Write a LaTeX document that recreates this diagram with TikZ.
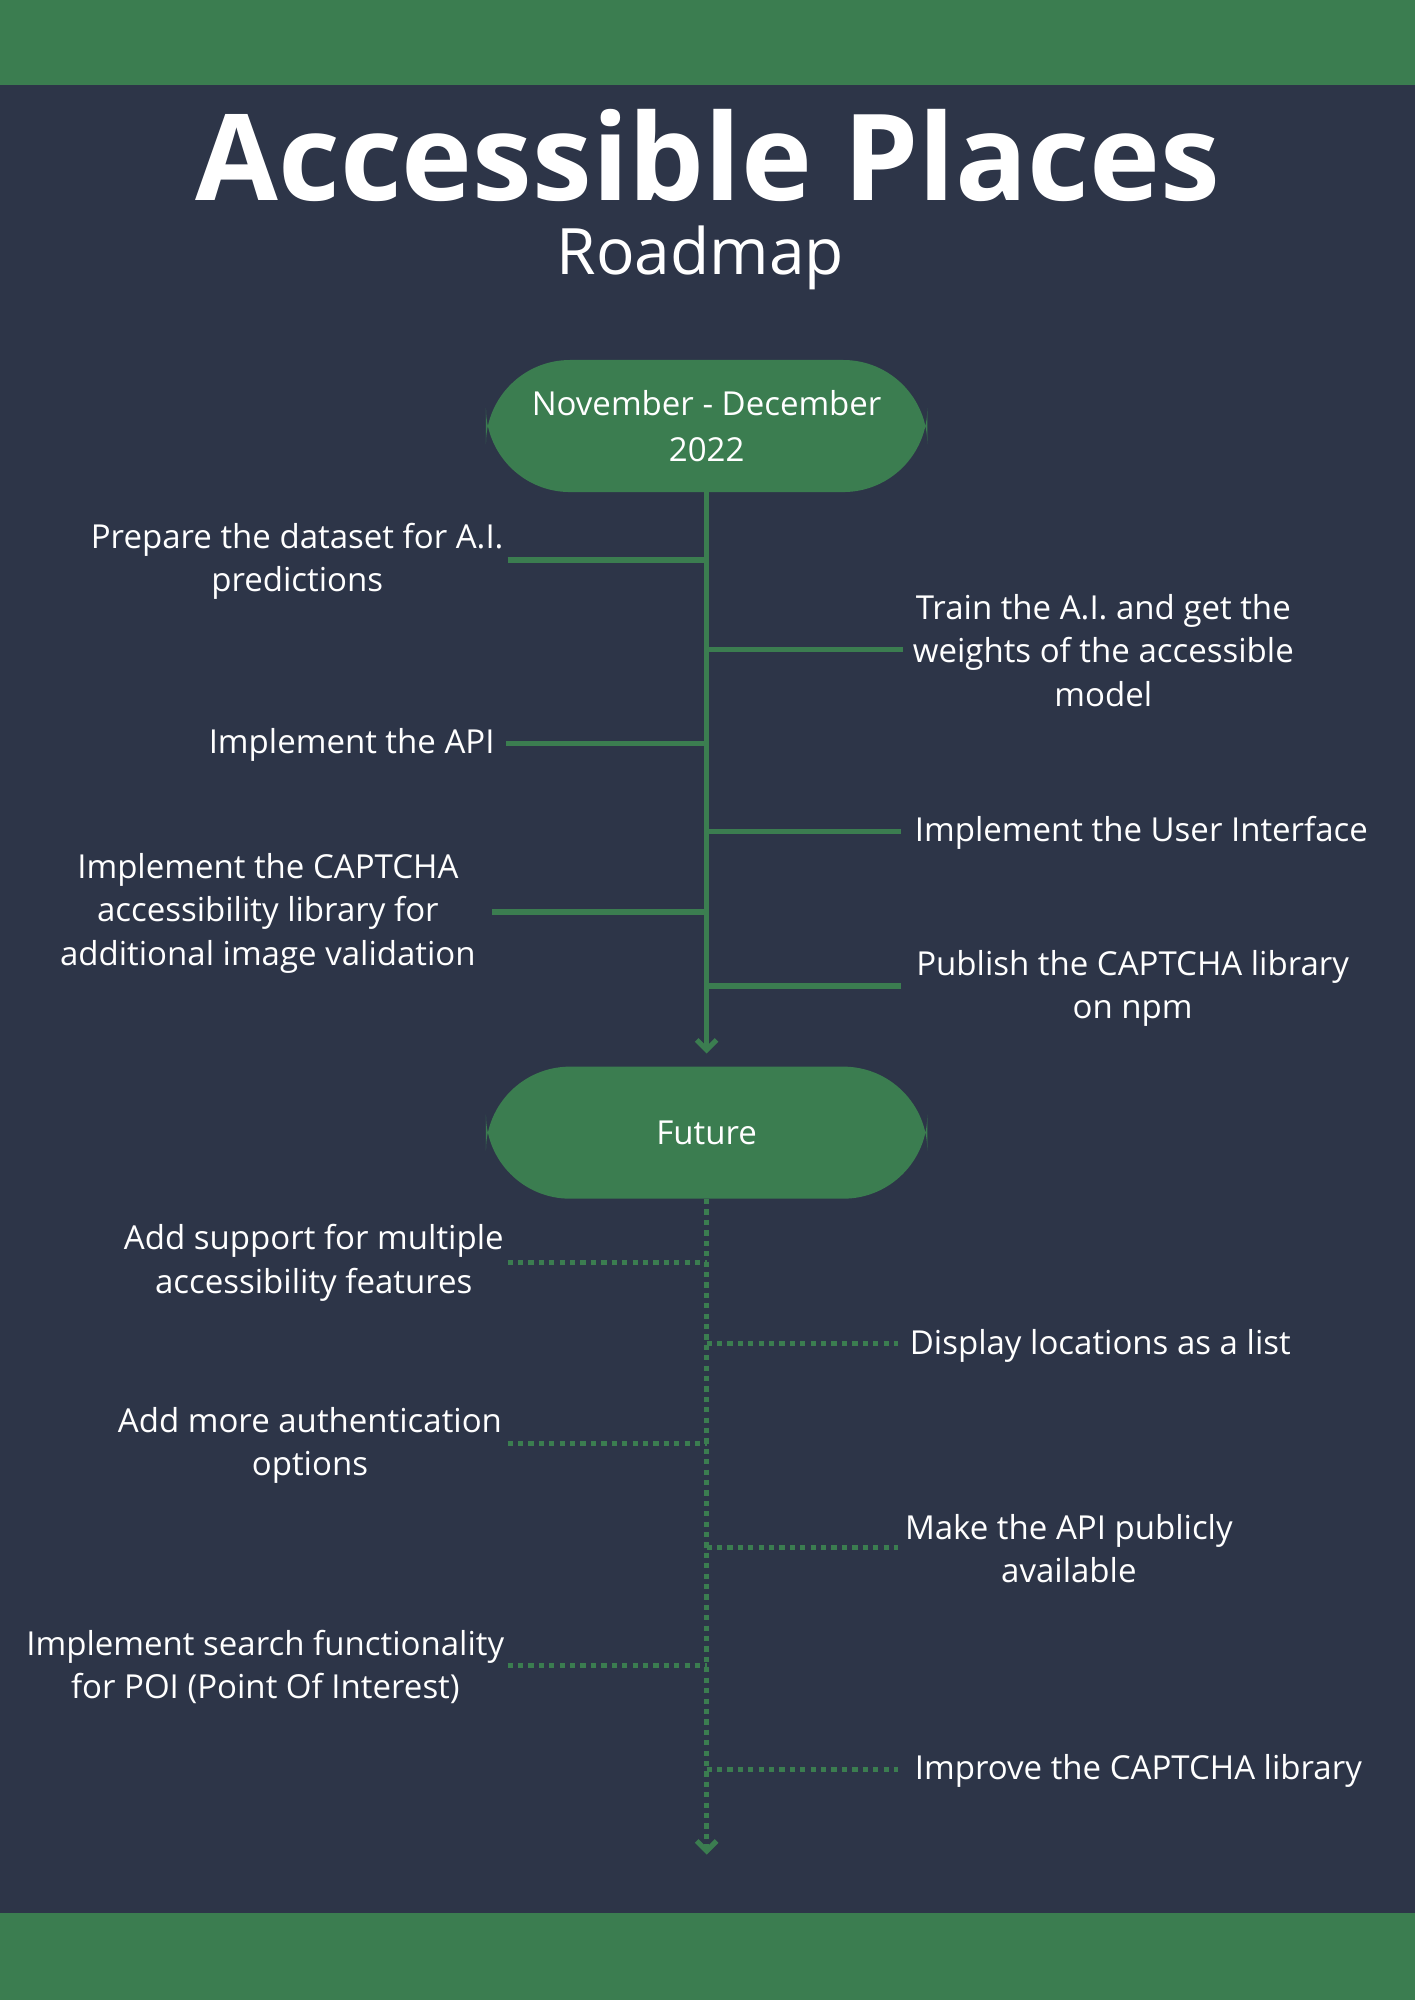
\documentclass[tikz,border=0pt]{standalone}
\usepackage{fontspec}
\setmainfont{Open Sans}
\usetikzlibrary{arrows.meta}
\definecolor{bg}{HTML}{2D3548}
\definecolor{gr}{HTML}{3B7D50}
\begin{document}
\begin{tikzpicture}[x=0.6375pt,y=-0.6375pt,
  txt/.style={text=white,font=\fontsize{16.5}{21.7}\selectfont,align=center,inner sep=0},
  pill/.style={fill=gr,rounded corners=42pt,minimum width=220.6pt,minimum height=66pt,text=white,font=\fontsize{16.5}{23}\selectfont,align=center},
  br/.style={draw=gr,line width=2.6pt},
  dbr/.style={draw=gr,line width=2.6pt,dash pattern=on 2.6pt off 2.6pt}]
\fill[bg] (0,0) rectangle (1109,1568);
\fill[gr] (0,0) rectangle (1109,67);
\fill[gr] (0,1500) rectangle (1109,1568);
\node[text=white,font=\fontsize{60}{60}\bfseries\selectfont] (title) at (555,122) {Accessible Places};
\node[text=white,font=\fontsize{32}{32}\selectfont] (sub) at (549,202) {Roadmap};
\node[pill] (p1) at (554,334) {November - December\\2022};
\node[pill] (p2) at (554,888) {Future};
\coordinate (e1) at (554,826);
\coordinate (e2) at (554,1454);
\draw[br,-{Straight Barb[length=5pt,width=10pt]}] (p1.south) -- (e1);
\draw[dbr,-{Straight Barb[length=5pt,width=10pt]}] (p2.south) -- (e2);
% top branches
\foreach \y/\xa/\xb in {439/398/554,509/554/708,583/397/554,652/554/706,715/386/554,773/554/706}
  \draw[br] (\xa,\y) -- (\xb,\y);
\foreach \y/\xa/\xb in {990/398/554,1053/554/704,1132/398/554,1213/554/704,1306/398/554,1387/554/704}
  \draw[dbr] (\xa,\y) -- (\xb,\y);
\node[txt] (t1) at (233,440) {Prepare the dataset for A.I.\\predictions};
\node[txt] (t2) at (865,510) {Train the A.I. and get the\\weights of the accessible\\model};
\node[txt,anchor=east] (t3) at (388,584) {Implement the API};
\node[txt,anchor=west] (t4) at (717,653) {Implement the User Interface};
\node[txt] (t5) at (210,716) {Implement the CAPTCHA\\accessibility library for\\additional image validation};
\node[txt] (t6) at (888,775) {Publish the CAPTCHA library\\on npm};
\node[txt] (f1) at (246,990) {Add support for multiple\\accessibility features};
\node[txt,anchor=west] (f2) at (713,1055) {Display locations as a list};
\node[txt] (f3) at (243,1133) {Add more authentication\\options};
\node[txt] (f4) at (838,1214) {Make the API publicly\\available};
\node[txt] (f5) at (208,1307) {Implement search functionality\\for POI (Point Of Interest)};
\node[txt,anchor=west] (f6) at (717,1388) {Improve the CAPTCHA library};
\end{tikzpicture}
\end{document}
